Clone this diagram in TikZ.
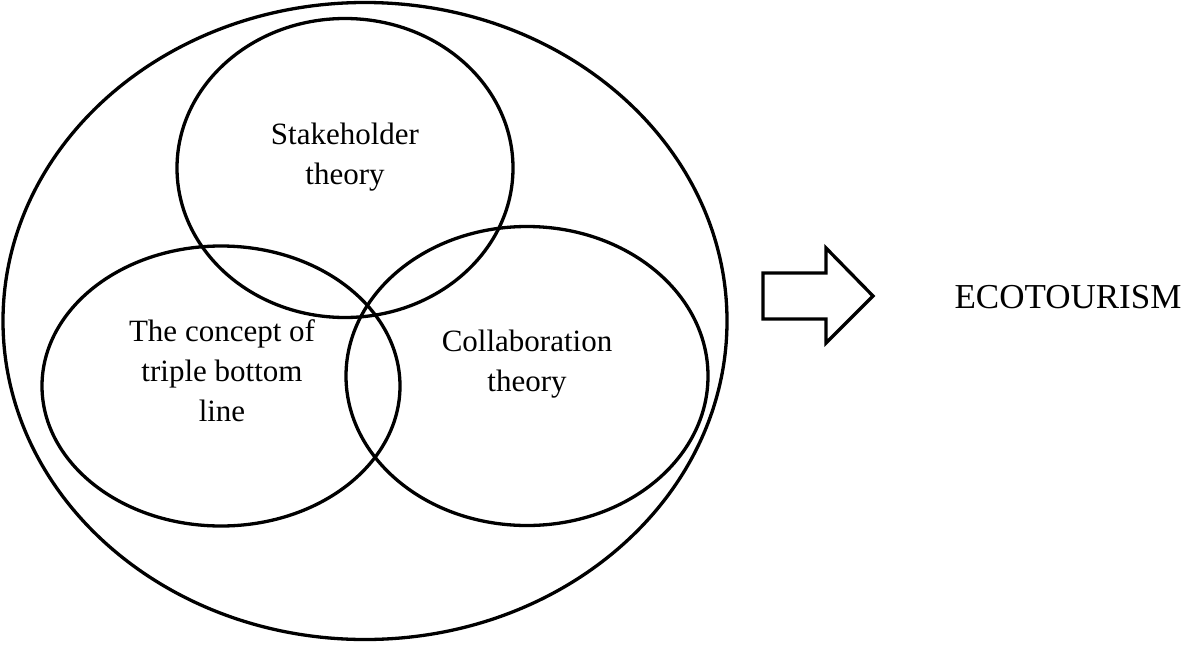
\documentclass[tikz,border=0pt]{standalone}
\usepackage{fontspec}
\setmainfont{Liberation Serif}
\usetikzlibrary{shapes.geometric}

\tikzset{
  ring/.style={draw, ellipse, inner sep=0pt},
  theory/.style={align=center, font=\fontsize{31}{40}\selectfont},
}

\begin{document}
\begin{tikzpicture}[line width=3.3pt]
    \pgfsetxvec{\pgfpoint{1pt}{0}}
    \pgfsetyvec{\pgfpoint{0}{-1pt}}
    \useasboundingbox (0,0) rectangle (1182,645);

    % outer ring and the three theories
    \node[ring, minimum width=724pt, minimum height=637pt] (whole) at (365,321) {};
    \node[ring, minimum width=336pt, minimum height=299pt] (stake) at (345,168) {};
    \node[ring, minimum width=358pt, minimum height=280pt] (triple) at (221,386) {};
    \node[ring, minimum width=362pt, minimum height=299pt] (collab) at (527,376) {};

    \draw (345,157) node[theory] (staketext) {Stakeholder\\theory};
    \draw (222,371) node[theory] (tripletext) {The concept of\\triple bottom\\line};
    \draw (527,364) node[theory] (collabtext) {Collaboration\\theory};

    % block arrow
    \draw (763,273) -- (826,273) -- (826,248) -- (873,296)
          -- (826,343) -- (826,319) -- (763,319) -- cycle;

    \draw (1068,297) node[font=\fontsize{35}{42}\selectfont] (eco) {ECOTOURISM};
\end{tikzpicture}
\end{document}
